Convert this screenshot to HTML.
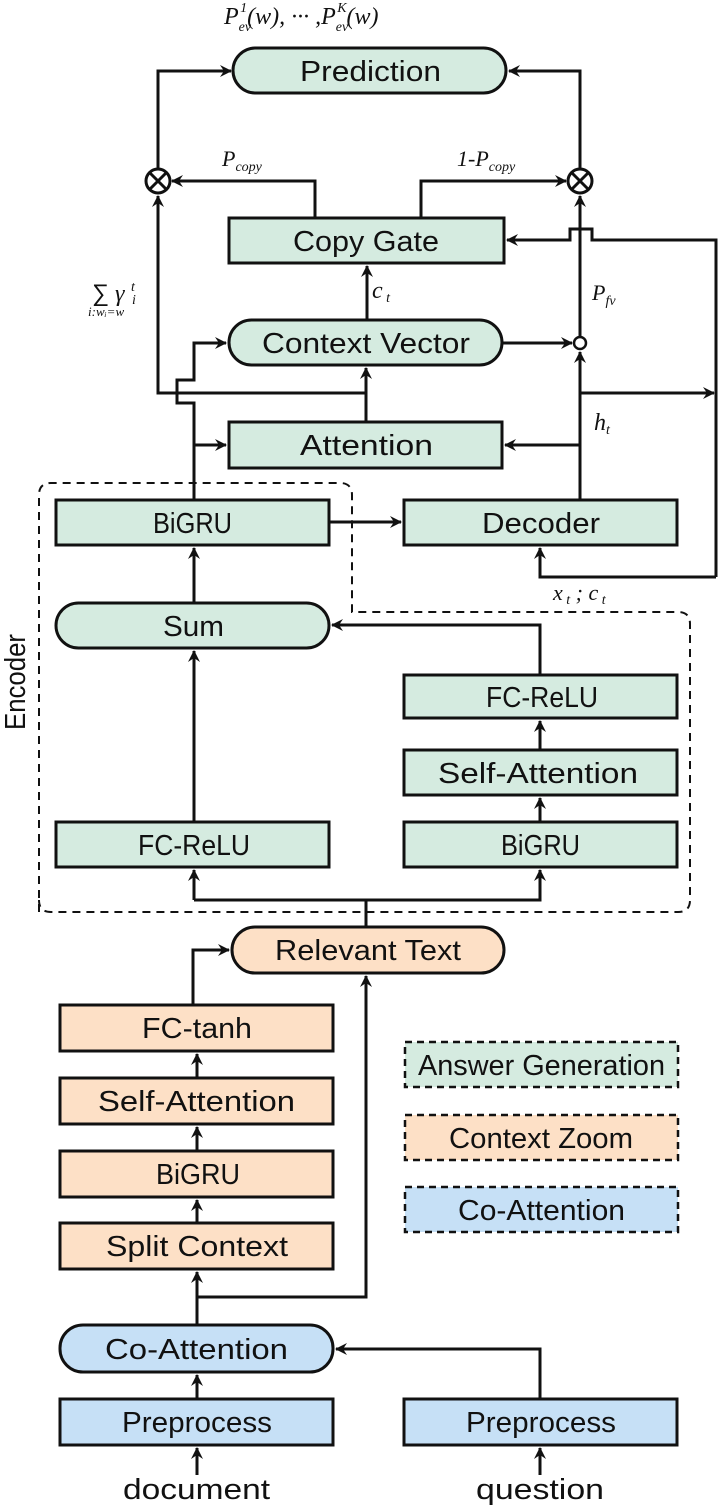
<!DOCTYPE html>
<html><head><meta charset="utf-8"><style>
html,body{margin:0;padding:0;background:#fff}
svg{display:block}
text{font-family:"Liberation Sans",sans-serif;font-size:29px;fill:#111}
.m{font-family:"Liberation Serif",serif;font-style:italic}
</style></head><body>
<svg width="718" height="1507" viewBox="0 0 718 1507" xmlns="http://www.w3.org/2000/svg">
<defs>
<marker id="a" viewBox="0 0 12 12" refX="11" refY="6" markerWidth="12" markerHeight="12" markerUnits="userSpaceOnUse" orient="auto">
<path d="M0,0 L12,6 L0,12 L4,6 z" fill="#111"/></marker>
</defs>
<g stroke="#111" stroke-width="3" fill="none">
<polyline points="158,169 158,71 231,71" marker-end="url(#a)"/>
<polyline points="580,169 580,71 509,71" marker-end="url(#a)"/>
<polyline points="315,218 315,181 172,181" marker-end="url(#a)"/>
<polyline points="421,218 421,181 566,181" marker-end="url(#a)"/>
<polyline points="716,577 716,240 592,240 592,229 570,229 570,240 507,240" marker-end="url(#a)"/>
<polyline points="367,320 367,266" marker-end="url(#a)"/>
<polyline points="502,343 572,343" marker-end="url(#a)"/>
<polyline points="580,500 580,352" marker-end="url(#a)"/>
<polyline points="580,337 580,196" marker-end="url(#a)"/>
<polyline points="580,393 714,393" marker-end="url(#a)"/>
<polyline points="580,445 505,445" marker-end="url(#a)"/>
<polyline points="366,422 366,368" marker-end="url(#a)"/>
<polyline points="366,393 158,393 158,196" marker-end="url(#a)"/>
<polyline points="194,500 194,445 226,445" marker-end="url(#a)"/>
<polyline points="194,445 194,403 177,403 177,380 194,380 194,343 226,343" marker-end="url(#a)"/>
<polyline points="329,522 401,522" marker-end="url(#a)"/>
<polyline points="716,577 540,577 540,548" marker-end="url(#a)"/>
<polyline points="194,603 194,548" marker-end="url(#a)"/>
<polyline points="540,675 540,625 332,625" marker-end="url(#a)"/>
<polyline points="540,750 540,721" marker-end="url(#a)"/>
<polyline points="540,822 540,798" marker-end="url(#a)"/>
<polyline points="194,822 194,651" marker-end="url(#a)"/>
<polyline points="366,927 366,900"/>
<polyline points="194,900 194,870" marker-end="url(#a)"/>
<polyline points="194,900 540,900 540,870" marker-end="url(#a)"/>
<polyline points="193,1005 193,950 229,950" marker-end="url(#a)"/>
<polyline points="197,1078 197,1054" marker-end="url(#a)"/>
<polyline points="197,1151 197,1127" marker-end="url(#a)"/>
<polyline points="197,1223 197,1200" marker-end="url(#a)"/>
<polyline points="197,1325 197,1272" marker-end="url(#a)"/>
<polyline points="197,1297 366,1297 366,976" marker-end="url(#a)"/>
<polyline points="197,1399 197,1375" marker-end="url(#a)"/>
<polyline points="540,1399 540,1349 336,1349" marker-end="url(#a)"/>
<polyline points="197,1475 197,1448" marker-end="url(#a)"/>
<polyline points="540,1475 540,1448" marker-end="url(#a)"/>
<path d="M39,912 L39,495 Q39,483 51,483 L340,483 Q352,483 352,495 L352,612 L678,612 Q690,612 690,624 L690,900 Q690,912 678,912 L51,912 Q39,912 39,900 Z" stroke-width="2" stroke-dasharray="8,6"/>
</g>
<g stroke="#111" stroke-width="3">
<rect x="233" y="48" width="273" height="45" rx="22.5" fill="#d5ebe0"/>
<rect x="229" y="218" width="275" height="45" fill="#d5ebe0"/>
<rect x="229" y="320" width="273" height="45" rx="22.5" fill="#d5ebe0"/>
<rect x="229" y="422" width="273" height="46" fill="#d5ebe0"/>
<rect x="56" y="500" width="273" height="45" fill="#d5ebe0"/>
<rect x="404" y="500" width="273" height="45" fill="#d5ebe0"/>
<rect x="56" y="603" width="273" height="45" rx="22.5" fill="#d5ebe0"/>
<rect x="404" y="675" width="273" height="43" fill="#d5ebe0"/>
<rect x="404" y="750" width="273" height="45" fill="#d5ebe0"/>
<rect x="404" y="822" width="273" height="45" fill="#d5ebe0"/>
<rect x="56" y="822" width="273" height="45" fill="#d5ebe0"/>
<rect x="232" y="927" width="272" height="46" rx="23" fill="#fde0c6"/>
<rect x="60" y="1005" width="273" height="46" fill="#fde0c6"/>
<rect x="60" y="1078" width="273" height="46" fill="#fde0c6"/>
<rect x="60" y="1151" width="273" height="46" fill="#fde0c6"/>
<rect x="60" y="1223" width="273" height="46" fill="#fde0c6"/>
<rect x="60" y="1325" width="273" height="47" rx="23" fill="#c6e0f6"/>
<rect x="60" y="1399" width="273" height="46" fill="#c6e0f6"/>
<rect x="404" y="1399" width="273" height="46" fill="#c6e0f6"/>
<circle cx="158" cy="181" r="12" fill="#fff"/>
<circle cx="580" cy="181" r="12" fill="#fff"/>
<path d="M150,173 L166,189 M166,173 L150,189 M572,173 L588,189 M588,173 L572,189" fill="none"/>
<circle cx="580" cy="343" r="6" fill="#fff" stroke-width="2.5"/>
</g>
<g stroke="#111" stroke-width="2.5" stroke-dasharray="7,5">
<rect x="405" y="1042" width="273" height="45" fill="#d5ebe0"/>
<rect x="405" y="1115" width="273" height="45" fill="#fde0c6"/>
<rect x="405" y="1187" width="273" height="45" fill="#c6e0f6"/>
</g>
<g>
<text x="300" y="81" textLength="141" lengthAdjust="spacingAndGlyphs">Prediction</text>
<text x="293" y="251" textLength="146" lengthAdjust="spacingAndGlyphs">Copy Gate</text>
<text x="262" y="353" textLength="208" lengthAdjust="spacingAndGlyphs">Context Vector</text>
<text x="300" y="455" textLength="133" lengthAdjust="spacingAndGlyphs">Attention</text>
<text x="153" y="533" textLength="79" lengthAdjust="spacingAndGlyphs">BiGRU</text>
<text x="482" y="533" textLength="118" lengthAdjust="spacingAndGlyphs">Decoder</text>
<text x="163" y="636" textLength="61" lengthAdjust="spacingAndGlyphs">Sum</text>
<text x="486" y="707" textLength="112" lengthAdjust="spacingAndGlyphs">FC-ReLU</text>
<text x="438" y="783" textLength="200" lengthAdjust="spacingAndGlyphs">Self-Attention</text>
<text x="501" y="855" textLength="79" lengthAdjust="spacingAndGlyphs">BiGRU</text>
<text x="138" y="855" textLength="112" lengthAdjust="spacingAndGlyphs">FC-ReLU</text>
<text x="275" y="960" textLength="186" lengthAdjust="spacingAndGlyphs">Relevant Text</text>
<text x="142" y="1038" textLength="110" lengthAdjust="spacingAndGlyphs">FC-tanh</text>
<text x="98" y="1111" textLength="197" lengthAdjust="spacingAndGlyphs">Self-Attention</text>
<text x="156" y="1184" textLength="84" lengthAdjust="spacingAndGlyphs">BiGRU</text>
<text x="106" y="1256" textLength="182" lengthAdjust="spacingAndGlyphs">Split Context</text>
<text x="105" y="1359" textLength="183" lengthAdjust="spacingAndGlyphs">Co-Attention</text>
<text x="122" y="1432" textLength="150" lengthAdjust="spacingAndGlyphs">Preprocess</text>
<text x="466" y="1432" textLength="150" lengthAdjust="spacingAndGlyphs">Preprocess</text>
<text x="418" y="1075" textLength="247" lengthAdjust="spacingAndGlyphs">Answer Generation</text>
<text x="449" y="1148" textLength="184" lengthAdjust="spacingAndGlyphs">Context Zoom</text>
<text x="458" y="1220" textLength="167" lengthAdjust="spacingAndGlyphs">Co-Attention</text>
<text x="123" y="1499" textLength="147" lengthAdjust="spacingAndGlyphs">document</text>
<text x="476" y="1499" textLength="128" lengthAdjust="spacingAndGlyphs">question</text>
</g>
<text x="0" y="0" transform="translate(25,682) rotate(-90)" text-anchor="middle" textLength="96" lengthAdjust="spacingAndGlyphs">Encoder</text>
<text class="m" x="224" y="24" style="font-size:24px">P<tspan dy="7" font-size="14">ev</tspan><tspan dx="-11" dy="-19" font-size="14">1</tspan><tspan dy="12">(w), ··· ,P</tspan><tspan dy="7" font-size="14">ev</tspan><tspan dx="-11" dy="-19" font-size="14">K</tspan><tspan dy="12">(w)</tspan></text>
<text class="m" x="222" y="166" style="font-size:22px">P<tspan dy="5" font-size="14">copy</tspan></text>
<text class="m" x="457" y="166" style="font-size:22px">1-P<tspan dy="5" font-size="14">copy</tspan></text>
<text class="m" x="372" y="298" style="font-size:24px">c<tspan dy="4" font-size="14"> t</tspan></text>
<text class="m" x="592" y="300" style="font-size:22px">P<tspan dy="5" font-size="14">fv</tspan></text>
<text class="m" x="594" y="430" style="font-size:24px">h<tspan dy="4" font-size="14">t</tspan></text>
<text class="m" x="553" y="600" style="font-size:22px">x<tspan dy="4" font-size="14"> t</tspan><tspan dy="-4"> ; c</tspan><tspan dy="4" font-size="14"> t</tspan></text>
<text x="92" y="301" style="font-size:24px">∑</text>
<text class="m" x="115" y="301" style="font-size:24px">γ</text>
<text class="m" x="131" y="291" style="font-size:14px">t</text>
<text class="m" x="132" y="304" style="font-size:14px">i</text>
<text class="m" x="88" y="316" style="font-size:13px">i:wᵢ=w</text>
</svg>
</body></html>
